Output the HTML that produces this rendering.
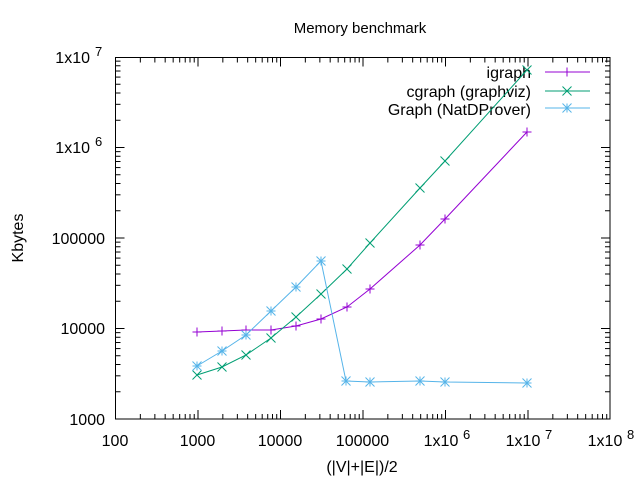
<!DOCTYPE html>
<html><head><meta charset="utf-8"><style>
html,body{margin:0;padding:0;background:#fff;}
svg{display:block;font-family:"Liberation Sans",sans-serif;}
</style></head><body>
<svg id="s" width="640" height="480" viewBox="0 0 640 480" xmlns="http://www.w3.org/2000/svg">
<rect width="640" height="480" fill="#fff"/>
<g id="ticks" stroke="#000" stroke-width="1"></g>
<rect x="115.5" y="57.5" width="494.5" height="361.5" fill="none" stroke="#000" stroke-width="1"/>
<g font-size="16" fill="#000">
<text x="360" y="33" text-anchor="middle" font-size="15">Memory benchmark</text>
<text x="105" y="425" text-anchor="end">1000</text>
<text x="105" y="334" text-anchor="end">10000</text>
<text x="105" y="244" text-anchor="end">100000</text>
<text x="90" y="153" text-anchor="end">1x10</text><text x="95" y="146" font-size="13">6</text>
<text x="90" y="63" text-anchor="end">1x10</text><text x="95" y="56" font-size="13">7</text>
<text x="115" y="446" text-anchor="middle">100</text>
<text x="197.5" y="446" text-anchor="middle">1000</text>
<text x="280" y="446" text-anchor="middle">10000</text>
<text x="362.5" y="446" text-anchor="middle">100000</text>
<text x="441" y="446" text-anchor="middle">1x10</text><text x="463" y="439" font-size="13">6</text>
<text x="523" y="446" text-anchor="middle">1x10</text><text x="545" y="439" font-size="13">7</text>
<text x="605" y="446" text-anchor="middle">1x10</text><text x="627" y="439" font-size="13">8</text>
<text x="362" y="472" text-anchor="middle">(|V|+|E|)/2</text>
<text transform="translate(23,238) rotate(-90)" text-anchor="middle">Kbytes</text>
<text x="531" y="78" text-anchor="end">igraph</text>
<text x="531" y="97" text-anchor="end">cgraph (graphviz)</text>
<text x="531" y="115" text-anchor="end">Graph (NatDProver)</text>
</g>
<g fill="none" stroke-width="1">
<polyline stroke="#9400d3" points="197,332 222,331 246,330 271,330 296,326 321,319 347,307 370,289 420,245 445,219 527,132"/>
<polyline stroke="#009e73" points="197,375 222,367 246,355 271,338 296,317 321,294 347,269 370,243 420,188 445,161 527,70"/>
<polyline stroke="#56b4e9" points="197,366 222,351 246,335 271,311 296,287 321,261 346,381 370,382 420,381 445,382 527,383"/>
<line x1="545" y1="72" x2="590" y2="72" stroke="#9400d3"/>
<line x1="545" y1="91" x2="590" y2="91" stroke="#009e73"/>
<line x1="545" y1="108" x2="590" y2="108" stroke="#56b4e9"/>
</g>
<g id="marks" stroke-width="1" fill="none"></g>
</svg>
<script>
var NS="http://www.w3.org/2000/svg";
function ln(g,x1,y1,x2,y2,c){var l=document.createElementNS(NS,"line");l.setAttribute("x1",x1);l.setAttribute("y1",y1);l.setAttribute("x2",x2);l.setAttribute("y2",y2);if(c)l.setAttribute("stroke",c);g.appendChild(l);}
var T=document.getElementById("ticks");
var L=115.5,R=610,Tp=57.5,B=419;
for(var d=0;d<6;d++){for(var k=1;k<10;k++){var x=L+82.5*(d+Math.log10(k));var len=k==1?9:5;ln(T,x,B,x,B-len);ln(T,x,Tp,x,Tp+len);}}
ln(T,R,B,R,B-9);ln(T,R,Tp,R,Tp+9);
for(var d=0;d<4;d++){for(var k=1;k<10;k++){var y=B-90.5*(d+Math.log10(k));var len=k==1?9:5;ln(T,L,y,L+len,y);ln(T,R,y,R-len,y);}}
ln(T,L,Tp,L+9,Tp);ln(T,R,Tp,R-9,Tp);
var M=document.getElementById("marks");
function plus(x,y,c){ln(M,x-4.5,y,x+4.5,y,c);ln(M,x,y-4.5,x,y+4.5,c);}
function cross(x,y,c){ln(M,x-4.5,y-4.5,x+4.5,y+4.5,c);ln(M,x-4.5,y+4.5,x+4.5,y-4.5,c);}
function star(x,y,c){plus(x,y,c);cross(x,y,c);}
function pts(s){return s.split(" ").map(function(p){return p.split(",").map(Number);});}
pts("197,332 222,331 246,330 271,330 296,326 321,319 347,307 370,289 420,245 445,219 527,132 567,72").forEach(function(p){plus(p[0],p[1],"#9400d3");});
pts("197,375 222,367 246,355 271,338 296,317 321,294 347,269 370,243 420,188 445,161 527,70 567,91").forEach(function(p){cross(p[0],p[1],"#009e73");});
pts("197,366 222,351 246,335 271,311 296,287 321,261 346,381 370,382 420,381 445,382 527,383 567,108").forEach(function(p){star(p[0],p[1],"#56b4e9");});
</script>
</body></html>
